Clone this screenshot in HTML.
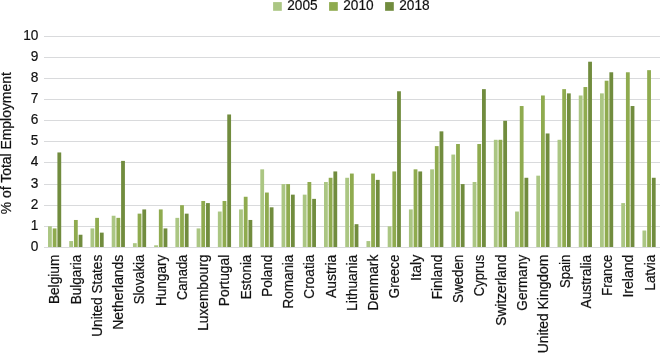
<!DOCTYPE html>
<html><head><meta charset="utf-8"><title>Chart</title>
<style>html,body{margin:0;padding:0;background:#fff}svg{display:block}text{font-family:"Liberation Sans",sans-serif;fill:#111;stroke:#111;stroke-width:0.2px}</style></head>
<body>
<svg width="660" height="354" viewBox="0 0 660 354">
<rect width="660" height="354" fill="#fff"/>
<rect x="44.0" y="226" width="616.0" height="1" fill="#d9dadc"/>
<rect x="44.0" y="205" width="616.0" height="1" fill="#d9dadc"/>
<rect x="44.0" y="184" width="616.0" height="1" fill="#d9dadc"/>
<rect x="44.0" y="162" width="616.0" height="1" fill="#d9dadc"/>
<rect x="44.0" y="141" width="616.0" height="1" fill="#d9dadc"/>
<rect x="44.0" y="120" width="616.0" height="1" fill="#d9dadc"/>
<rect x="44.0" y="99" width="616.0" height="1" fill="#d9dadc"/>
<rect x="44.0" y="78" width="616.0" height="1" fill="#d9dadc"/>
<rect x="44.0" y="57" width="616.0" height="1" fill="#d9dadc"/>
<rect x="44.0" y="36" width="616.0" height="1" fill="#d9dadc"/>
<rect x="48.02" y="226.30" width="3.80" height="21.70" fill="#abc683"/>
<rect x="52.72" y="228.41" width="3.80" height="19.59" fill="#8fab4f"/>
<rect x="57.41" y="152.45" width="3.80" height="95.55" fill="#718c3e"/>
<rect x="69.25" y="241.07" width="3.80" height="6.93" fill="#abc683"/>
<rect x="73.95" y="219.97" width="3.80" height="28.03" fill="#8fab4f"/>
<rect x="78.65" y="234.74" width="3.80" height="13.26" fill="#718c3e"/>
<rect x="90.48" y="228.41" width="3.80" height="19.59" fill="#abc683"/>
<rect x="95.18" y="217.86" width="3.80" height="30.14" fill="#8fab4f"/>
<rect x="99.88" y="232.63" width="3.80" height="15.37" fill="#718c3e"/>
<rect x="111.70" y="215.75" width="3.80" height="32.25" fill="#abc683"/>
<rect x="116.41" y="217.86" width="3.80" height="30.14" fill="#8fab4f"/>
<rect x="121.11" y="160.89" width="3.80" height="87.11" fill="#718c3e"/>
<rect x="132.94" y="243.18" width="3.80" height="4.82" fill="#abc683"/>
<rect x="137.63" y="213.64" width="3.80" height="34.36" fill="#8fab4f"/>
<rect x="142.34" y="209.42" width="3.80" height="38.58" fill="#718c3e"/>
<rect x="154.17" y="245.29" width="3.80" height="2.71" fill="#abc683"/>
<rect x="158.87" y="209.42" width="3.80" height="38.58" fill="#8fab4f"/>
<rect x="163.57" y="228.41" width="3.80" height="19.59" fill="#718c3e"/>
<rect x="175.39" y="217.86" width="3.80" height="30.14" fill="#abc683"/>
<rect x="180.09" y="205.20" width="3.80" height="42.80" fill="#8fab4f"/>
<rect x="184.79" y="213.64" width="3.80" height="34.36" fill="#718c3e"/>
<rect x="196.62" y="228.41" width="3.80" height="19.59" fill="#abc683"/>
<rect x="201.32" y="200.98" width="3.80" height="47.02" fill="#8fab4f"/>
<rect x="206.03" y="203.09" width="3.80" height="44.91" fill="#718c3e"/>
<rect x="217.86" y="211.53" width="3.80" height="36.47" fill="#abc683"/>
<rect x="222.56" y="200.98" width="3.80" height="47.02" fill="#8fab4f"/>
<rect x="227.26" y="114.47" width="3.80" height="133.53" fill="#718c3e"/>
<rect x="239.08" y="209.42" width="3.80" height="38.58" fill="#abc683"/>
<rect x="243.78" y="196.76" width="3.80" height="51.24" fill="#8fab4f"/>
<rect x="248.48" y="219.97" width="3.80" height="28.03" fill="#718c3e"/>
<rect x="260.31" y="169.33" width="3.80" height="78.67" fill="#abc683"/>
<rect x="265.01" y="192.54" width="3.80" height="55.46" fill="#8fab4f"/>
<rect x="269.71" y="207.31" width="3.80" height="40.69" fill="#718c3e"/>
<rect x="281.54" y="184.10" width="3.80" height="63.90" fill="#abc683"/>
<rect x="286.24" y="184.10" width="3.80" height="63.90" fill="#8fab4f"/>
<rect x="290.94" y="194.65" width="3.80" height="53.35" fill="#718c3e"/>
<rect x="302.77" y="194.65" width="3.80" height="53.35" fill="#abc683"/>
<rect x="307.47" y="181.99" width="3.80" height="66.01" fill="#8fab4f"/>
<rect x="312.17" y="198.87" width="3.80" height="49.13" fill="#718c3e"/>
<rect x="324.00" y="181.99" width="3.80" height="66.01" fill="#abc683"/>
<rect x="328.70" y="177.77" width="3.80" height="70.23" fill="#8fab4f"/>
<rect x="333.40" y="171.44" width="3.80" height="76.56" fill="#718c3e"/>
<rect x="345.24" y="177.77" width="3.80" height="70.23" fill="#abc683"/>
<rect x="349.94" y="173.55" width="3.80" height="74.45" fill="#8fab4f"/>
<rect x="354.63" y="224.19" width="3.80" height="23.81" fill="#718c3e"/>
<rect x="366.46" y="241.07" width="3.80" height="6.93" fill="#abc683"/>
<rect x="371.16" y="173.55" width="3.80" height="74.45" fill="#8fab4f"/>
<rect x="375.86" y="179.88" width="3.80" height="68.12" fill="#718c3e"/>
<rect x="387.69" y="226.30" width="3.80" height="21.70" fill="#abc683"/>
<rect x="392.39" y="171.44" width="3.80" height="76.56" fill="#8fab4f"/>
<rect x="397.09" y="91.26" width="3.80" height="156.74" fill="#718c3e"/>
<rect x="408.93" y="209.42" width="3.80" height="38.58" fill="#abc683"/>
<rect x="413.62" y="169.33" width="3.80" height="78.67" fill="#8fab4f"/>
<rect x="418.32" y="171.44" width="3.80" height="76.56" fill="#718c3e"/>
<rect x="430.15" y="169.33" width="3.80" height="78.67" fill="#abc683"/>
<rect x="434.85" y="146.12" width="3.80" height="101.88" fill="#8fab4f"/>
<rect x="439.55" y="131.35" width="3.80" height="116.65" fill="#718c3e"/>
<rect x="451.38" y="154.56" width="3.80" height="93.44" fill="#abc683"/>
<rect x="456.08" y="144.01" width="3.80" height="103.99" fill="#8fab4f"/>
<rect x="460.78" y="184.10" width="3.80" height="63.90" fill="#718c3e"/>
<rect x="472.62" y="181.99" width="3.80" height="66.01" fill="#abc683"/>
<rect x="477.31" y="144.01" width="3.80" height="103.99" fill="#8fab4f"/>
<rect x="482.01" y="89.15" width="3.80" height="158.85" fill="#718c3e"/>
<rect x="493.84" y="139.79" width="3.80" height="108.21" fill="#abc683"/>
<rect x="498.54" y="139.79" width="3.80" height="108.21" fill="#8fab4f"/>
<rect x="503.24" y="120.80" width="3.80" height="127.20" fill="#718c3e"/>
<rect x="515.08" y="211.53" width="3.80" height="36.47" fill="#abc683"/>
<rect x="519.78" y="106.03" width="3.80" height="141.97" fill="#8fab4f"/>
<rect x="524.48" y="177.77" width="3.80" height="70.23" fill="#718c3e"/>
<rect x="536.30" y="175.66" width="3.80" height="72.34" fill="#abc683"/>
<rect x="541.00" y="95.48" width="3.80" height="152.52" fill="#8fab4f"/>
<rect x="545.70" y="133.46" width="3.80" height="114.54" fill="#718c3e"/>
<rect x="557.53" y="139.79" width="3.80" height="108.21" fill="#abc683"/>
<rect x="562.24" y="89.15" width="3.80" height="158.85" fill="#8fab4f"/>
<rect x="566.93" y="93.37" width="3.80" height="154.63" fill="#718c3e"/>
<rect x="578.76" y="95.48" width="3.80" height="152.52" fill="#abc683"/>
<rect x="583.47" y="87.04" width="3.80" height="160.96" fill="#8fab4f"/>
<rect x="588.16" y="61.72" width="3.80" height="186.28" fill="#718c3e"/>
<rect x="600.00" y="93.37" width="3.80" height="154.63" fill="#abc683"/>
<rect x="604.70" y="80.71" width="3.80" height="167.29" fill="#8fab4f"/>
<rect x="609.39" y="72.27" width="3.80" height="175.73" fill="#718c3e"/>
<rect x="621.23" y="203.09" width="3.80" height="44.91" fill="#abc683"/>
<rect x="625.93" y="72.27" width="3.80" height="175.73" fill="#8fab4f"/>
<rect x="630.62" y="106.03" width="3.80" height="141.97" fill="#718c3e"/>
<rect x="642.46" y="230.52" width="3.80" height="17.48" fill="#abc683"/>
<rect x="647.16" y="70.16" width="3.80" height="177.84" fill="#8fab4f"/>
<rect x="651.86" y="177.77" width="3.80" height="70.23" fill="#718c3e"/>
<rect x="44.0" y="247" width="616.0" height="1" fill="#d9dadc"/>
<text x="38.4" y="251.45" font-size="14.3" text-anchor="end" textLength="7.61" lengthAdjust="spacingAndGlyphs">0</text>
<text x="38.4" y="230.45" font-size="14.3" text-anchor="end" textLength="7.61" lengthAdjust="spacingAndGlyphs">1</text>
<text x="38.4" y="209.45" font-size="14.3" text-anchor="end" textLength="7.61" lengthAdjust="spacingAndGlyphs">2</text>
<text x="38.4" y="188.45" font-size="14.3" text-anchor="end" textLength="7.61" lengthAdjust="spacingAndGlyphs">3</text>
<text x="38.4" y="166.45" font-size="14.3" text-anchor="end" textLength="7.61" lengthAdjust="spacingAndGlyphs">4</text>
<text x="38.4" y="145.45" font-size="14.3" text-anchor="end" textLength="7.61" lengthAdjust="spacingAndGlyphs">5</text>
<text x="38.4" y="124.45" font-size="14.3" text-anchor="end" textLength="7.61" lengthAdjust="spacingAndGlyphs">6</text>
<text x="38.4" y="103.45" font-size="14.3" text-anchor="end" textLength="7.61" lengthAdjust="spacingAndGlyphs">7</text>
<text x="38.4" y="82.45" font-size="14.3" text-anchor="end" textLength="7.61" lengthAdjust="spacingAndGlyphs">8</text>
<text x="38.4" y="61.45" font-size="14.3" text-anchor="end" textLength="7.61" lengthAdjust="spacingAndGlyphs">9</text>
<text x="38.4" y="40.45" font-size="14.3" text-anchor="end" textLength="15.21" lengthAdjust="spacingAndGlyphs">10</text>
<text transform="translate(59.45,254.7) rotate(-90)" font-size="13.8" text-anchor="end" textLength="49.42" lengthAdjust="spacingAndGlyphs">Belgium</text>
<text transform="translate(80.70,254.7) rotate(-90)" font-size="13.8" text-anchor="end" textLength="49.58" lengthAdjust="spacingAndGlyphs">Bulgaria</text>
<text transform="translate(101.95,254.7) rotate(-90)" font-size="13.8" text-anchor="end" textLength="82.16" lengthAdjust="spacingAndGlyphs">United States</text>
<text transform="translate(123.21,254.7) rotate(-90)" font-size="13.8" text-anchor="end" textLength="75.00" lengthAdjust="spacingAndGlyphs">Netherlands</text>
<text transform="translate(144.46,254.7) rotate(-90)" font-size="13.8" text-anchor="end" textLength="49.64" lengthAdjust="spacingAndGlyphs">Slovakia</text>
<text transform="translate(165.71,254.7) rotate(-90)" font-size="13.8" text-anchor="end" textLength="51.38" lengthAdjust="spacingAndGlyphs">Hungary</text>
<text transform="translate(186.96,254.7) rotate(-90)" font-size="13.8" text-anchor="end" textLength="45.30" lengthAdjust="spacingAndGlyphs">Canada</text>
<text transform="translate(208.21,254.7) rotate(-90)" font-size="13.8" text-anchor="end" textLength="76.08" lengthAdjust="spacingAndGlyphs">Luxembourg</text>
<text transform="translate(229.47,254.7) rotate(-90)" font-size="13.8" text-anchor="end" textLength="51.48" lengthAdjust="spacingAndGlyphs">Portugal</text>
<text transform="translate(250.72,254.7) rotate(-90)" font-size="13.8" text-anchor="end" textLength="44.61" lengthAdjust="spacingAndGlyphs">Estonia</text>
<text transform="translate(271.97,254.7) rotate(-90)" font-size="13.8" text-anchor="end" textLength="42.03" lengthAdjust="spacingAndGlyphs">Poland</text>
<text transform="translate(293.22,254.7) rotate(-90)" font-size="13.8" text-anchor="end" textLength="53.71" lengthAdjust="spacingAndGlyphs">Romania</text>
<text transform="translate(314.47,254.7) rotate(-90)" font-size="13.8" text-anchor="end" textLength="43.97" lengthAdjust="spacingAndGlyphs">Croatia</text>
<text transform="translate(335.73,254.7) rotate(-90)" font-size="13.8" text-anchor="end" textLength="43.30" lengthAdjust="spacingAndGlyphs">Austria</text>
<text transform="translate(356.98,254.7) rotate(-90)" font-size="13.8" text-anchor="end" textLength="56.19" lengthAdjust="spacingAndGlyphs">Lithuania</text>
<text transform="translate(378.23,254.7) rotate(-90)" font-size="13.8" text-anchor="end" textLength="55.80" lengthAdjust="spacingAndGlyphs">Denmark</text>
<text transform="translate(399.48,254.7) rotate(-90)" font-size="13.8" text-anchor="end" textLength="43.45" lengthAdjust="spacingAndGlyphs">Greece</text>
<text transform="translate(420.73,254.7) rotate(-90)" font-size="13.8" text-anchor="end" textLength="26.22" lengthAdjust="spacingAndGlyphs">Italy</text>
<text transform="translate(441.99,254.7) rotate(-90)" font-size="13.8" text-anchor="end" textLength="44.56" lengthAdjust="spacingAndGlyphs">Finland</text>
<text transform="translate(463.24,254.7) rotate(-90)" font-size="13.8" text-anchor="end" textLength="48.30" lengthAdjust="spacingAndGlyphs">Sweden</text>
<text transform="translate(484.49,254.7) rotate(-90)" font-size="13.8" text-anchor="end" textLength="41.64" lengthAdjust="spacingAndGlyphs">Cyprus</text>
<text transform="translate(505.74,254.7) rotate(-90)" font-size="13.8" text-anchor="end" textLength="71.07" lengthAdjust="spacingAndGlyphs">Switzerland</text>
<text transform="translate(526.99,254.7) rotate(-90)" font-size="13.8" text-anchor="end" textLength="56.01" lengthAdjust="spacingAndGlyphs">Germany</text>
<text transform="translate(548.25,254.7) rotate(-90)" font-size="13.8" text-anchor="end" textLength="98.64" lengthAdjust="spacingAndGlyphs">United Kingdom</text>
<text transform="translate(569.50,254.7) rotate(-90)" font-size="13.8" text-anchor="end" textLength="33.26" lengthAdjust="spacingAndGlyphs">Spain</text>
<text transform="translate(590.75,254.7) rotate(-90)" font-size="13.8" text-anchor="end" textLength="53.92" lengthAdjust="spacingAndGlyphs">Australia</text>
<text transform="translate(612.00,254.7) rotate(-90)" font-size="13.8" text-anchor="end" textLength="41.00" lengthAdjust="spacingAndGlyphs">France</text>
<text transform="translate(633.25,254.7) rotate(-90)" font-size="13.8" text-anchor="end" textLength="42.86" lengthAdjust="spacingAndGlyphs">Ireland</text>
<text transform="translate(654.51,254.7) rotate(-90)" font-size="13.8" text-anchor="end" textLength="35.91" lengthAdjust="spacingAndGlyphs">Latvia</text>
<text transform="translate(11.4,143.2) rotate(-90)" font-size="13.8" text-anchor="middle" textLength="141.90" lengthAdjust="spacingAndGlyphs">% of Total Employment</text>
<rect x="273.1" y="2.1" width="8.7" height="8.7" fill="#abc683"/>
<text x="287.2" y="10.3" font-size="14.3" textLength="30.42" lengthAdjust="spacingAndGlyphs">2005</text>
<rect x="329.1" y="2.1" width="8.7" height="8.7" fill="#8fab4f"/>
<text x="343.2" y="10.3" font-size="14.3" textLength="30.42" lengthAdjust="spacingAndGlyphs">2010</text>
<rect x="385.1" y="2.1" width="8.7" height="8.7" fill="#718c3e"/>
<text x="399.2" y="10.3" font-size="14.3" textLength="30.42" lengthAdjust="spacingAndGlyphs">2018</text>
</svg>
</body></html>
